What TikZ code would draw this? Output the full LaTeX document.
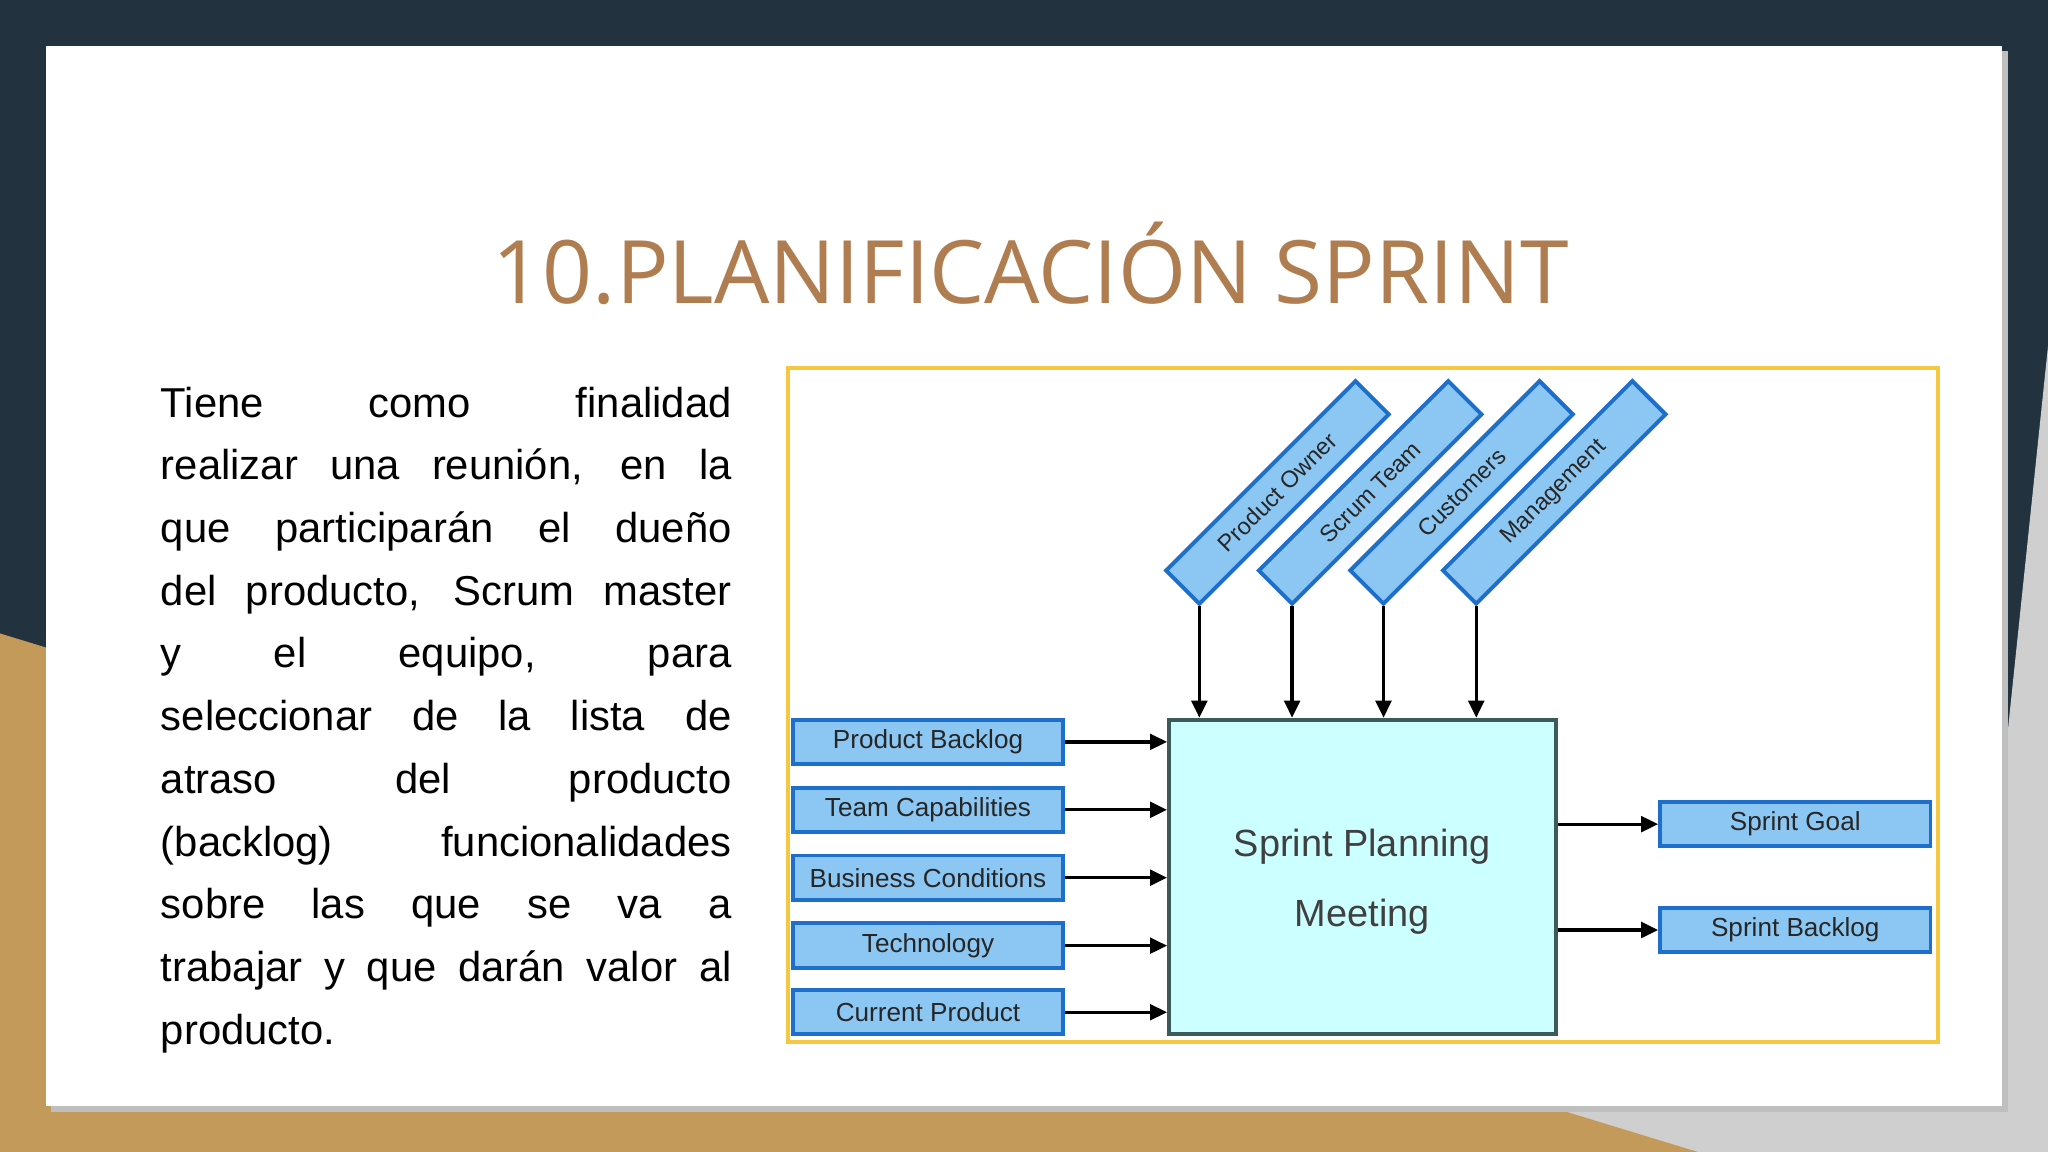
\documentclass[tikz,border=0pt]{standalone}
\usepackage{fontspec}
\setmainfont{Liberation Sans}
\newfontfamily\titlefont{Open Sans}
\usetikzlibrary{arrows.meta}
\definecolor{navy}{HTML}{22333F}
\definecolor{gold}{HTML}{C49A5A}
\definecolor{greyb}{HTML}{CFCFCF}
\definecolor{titlec}{HTML}{B07D50}
\definecolor{frame}{HTML}{F5C842}
\definecolor{boxfill}{HTML}{8CC6F2}
\definecolor{boxdraw}{HTML}{1E6FCC}
\definecolor{cfill}{HTML}{CCFFFF}
\definecolor{cdraw}{HTML}{3D5A5A}
\hbadness=10000
\begin{document}
\begin{tikzpicture}[x=1pt,y=-1pt,
  inbox/.style={draw=boxdraw,fill=boxfill,line width=3pt,minimum width=207pt,minimum height=34pt,inner sep=0pt,font=\fontsize{20}{22}\selectfont,text=black!85},
  diagbox/.style={inbox,minimum width=205pt,minimum height=36pt,rotate=45,font=\fontsize{18}{20}\selectfont},
  arr/.style={-{Triangle[length=13pt,width=12pt]},line width=2.5pt}]
\useasboundingbox (0,0) rectangle (1568,882);
\fill[navy] (0,0) rectangle (1568,882);
\fill[greyb] (1568,265) -- (1568,882) -- (1150,882) -- (1533,600) -- cycle;
\fill[gold] (0,485) -- (1300,882) -- (0,882) -- cycle;
\fill[black!25] (39,39) rectangle (1537,851);
\fill[white] (35,35) rectangle (1533,847);
\node[font=\titlefont\fontsize{67}{80}\selectfont,text=titlec] (title) at (789,202) {10.PLANIFICACIÓN SPRINT};
\node[anchor=north west,inner sep=0pt,text width=437pt,align=justify,font=\fontsize{32}{48}\selectfont] (body) at (123,296) {Tiene como finalidad\linebreak realizar una reunión, en la\linebreak que participarán el dueño\linebreak del producto, Scrum master\linebreak y el equipo, para\linebreak seleccionar de la lista de\linebreak atraso del producto\linebreak (backlog) funcionalidades\linebreak sobre las que se va a\linebreak trabajar y que darán valor al\linebreak producto.};
\draw[frame,line width=3pt] (603,282) rectangle (1484,798);
\node[draw=cdraw,fill=cfill,line width=3pt,minimum width=296pt,minimum height=241pt,inner sep=0pt] (center) at (1043,671.5) {};
\node[font=\fontsize{29}{54}\selectfont,text=black!75,align=center] (ctext) at (1043,675) {Sprint Planning\\Meeting};
\foreach \n/\y/\t in {pb/568/Product Backlog,tc/620/Team Capabilities,bc/672/Business Conditions,te/724/Technology,cp/775/Current Product}{
  \node[inbox] (\n) at (710.5,\y) {\t};
  \draw[arr] (\n.east) -- (\n.east -| center.west);
}
\foreach \n/\y/\t in {sg/631/Sprint Goal,sb/712/Sprint Backlog}{
  \node[inbox] (\n) at (1374.5,\y) {\t};
  \draw[arr] (\n.west -| center.east) -- (\n.west);
}
\foreach \n/\x/\t in {po/978/Product Owner,st/1049/Scrum Team,cu/1119/Customers,ma/1190/Management}{
  \node[diagbox] (\n) at (\x,377) {\t};
  \draw[arr] (\n.south west) -- (\n.south west |- center.north);
}
\end{tikzpicture}
\end{document}
